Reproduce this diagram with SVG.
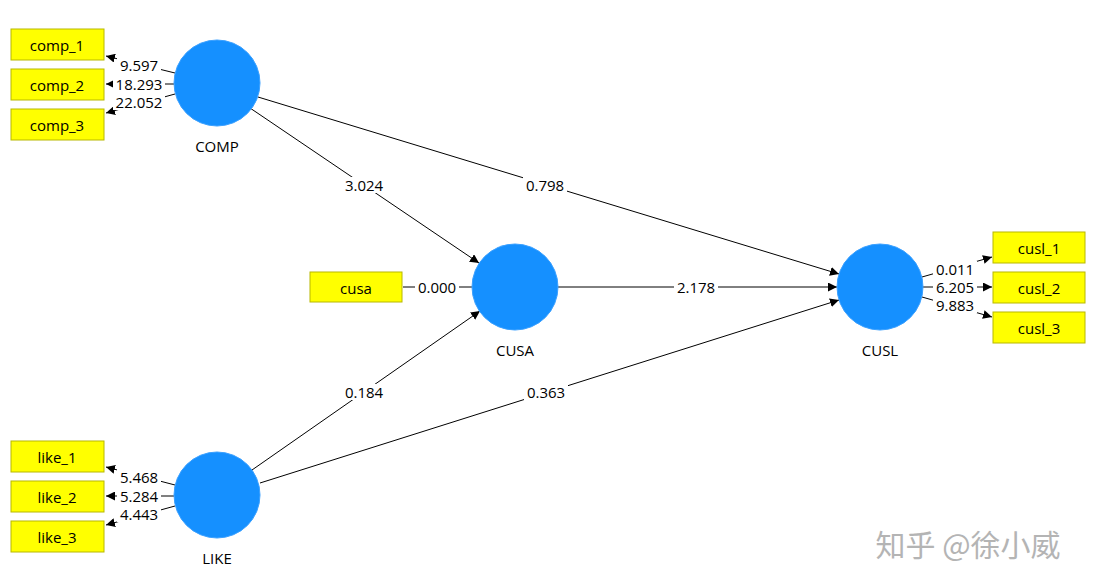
<svg xmlns="http://www.w3.org/2000/svg" width="1099" height="588" viewBox="0 0 1099 588">
<style>
text{font-family:"Open Sans","Liberation Sans",sans-serif;font-size:15px;fill:#000;text-anchor:middle;dominant-baseline:central}
.box rect{fill:#ffff00;stroke:#b8b800;stroke-width:1}
.lv circle{fill:#1590ff;stroke:#3aa0ff}
.c line{stroke:#000;stroke-width:1;marker-end:url(#a)}
.bg{fill:#fff}
</style>
<defs><marker id="a" viewBox="0 0 10 10" refX="10" refY="5" markerWidth="9" markerHeight="9" markerUnits="userSpaceOnUse" orient="auto"><path d="M0,0L10,5L0,10z" fill="#000"/></marker></defs>
<rect width="1099" height="588" fill="#fff"/>
<g class="c">
<line x1="250" y1="108" x2="479" y2="263"/>
<line x1="258" y1="97" x2="839" y2="274"/>
<line x1="252" y1="470" x2="480" y2="311"/>
<line x1="260" y1="483" x2="839" y2="300"/>
<line x1="558" y1="287" x2="837" y2="287"/>
<line x1="472" y1="287" x2="403" y2="287" style="marker-end:none"/>
<line x1="175" y1="73" x2="106" y2="56"/>
<line x1="174" y1="84" x2="106" y2="84"/>
<line x1="175" y1="94" x2="106" y2="113"/>
<line x1="175" y1="485" x2="106" y2="467"/>
<line x1="174" y1="496" x2="106" y2="496"/>
<line x1="175" y1="506" x2="106" y2="525"/>
<line x1="922" y1="277" x2="992" y2="257"/>
<line x1="922" y1="287" x2="992" y2="287"/>
<line x1="922" y1="297" x2="992" y2="317"/>
<rect class="bg" x="342" y="177" width="44" height="16"/><text x="364" y="185">3.024</text>
<rect class="bg" x="523" y="177" width="44" height="16"/><text x="545" y="185">0.798</text>
<rect class="bg" x="674" y="279" width="44" height="16"/><text x="696" y="287">2.178</text>
<rect class="bg" x="342" y="384" width="44" height="16"/><text x="364" y="392">0.184</text>
<rect class="bg" x="524" y="384" width="44" height="16"/><text x="546" y="392">0.363</text>
<rect class="bg" x="415" y="279" width="44" height="16"/><text x="437" y="287">0.000</text>
<rect class="bg" x="117" y="57" width="44" height="16"/><text x="139" y="65">9.597</text>
<rect class="bg" x="113" y="76" width="52" height="16"/><text x="139" y="84">18.293</text>
<rect class="bg" x="113" y="94" width="52" height="16"/><text x="139" y="102">22.052</text>
<rect class="bg" x="117" y="469" width="44" height="16"/><text x="139" y="477">5.468</text>
<rect class="bg" x="117" y="488" width="44" height="16"/><text x="139" y="496">5.284</text>
<rect class="bg" x="117" y="506" width="44" height="16"/><text x="139" y="514">4.443</text>
<rect class="bg" x="933" y="261" width="44" height="16"/><text x="955" y="269">0.011</text>
<rect class="bg" x="933" y="279" width="44" height="16"/><text x="955" y="287">6.205</text>
<rect class="bg" x="933" y="297" width="44" height="16"/><text x="955" y="305">9.883</text>
</g>
<g id="COMP" class="lv"><circle cx="217" cy="83" r="43"/><text x="217" y="146">COMP</text></g>
<g id="CUSA" class="lv"><circle cx="515" cy="287" r="43"/><text x="515" y="350">CUSA</text></g>
<g id="CUSL" class="lv"><circle cx="880" cy="287" r="43"/><text x="880" y="350">CUSL</text></g>
<g id="LIKE" class="lv"><circle cx="217" cy="495" r="43"/><text x="217" y="558">LIKE</text></g>
<g id="comp_1" class="box"><rect x="11" y="29" width="93" height="31"/><text x="57" y="45">comp_1</text></g>
<g id="comp_2" class="box"><rect x="11" y="69" width="93" height="31"/><text x="57" y="85">comp_2</text></g>
<g id="comp_3" class="box"><rect x="11" y="109" width="93" height="31"/><text x="57" y="125">comp_3</text></g>
<g id="cusa" class="box"><rect x="310" y="272" width="92" height="30"/><text x="356" y="288">cusa</text></g>
<g id="cusl_1" class="box"><rect x="993" y="232" width="92" height="31"/><text x="1039" y="248">cusl_1</text></g>
<g id="cusl_2" class="box"><rect x="993" y="272" width="92" height="31"/><text x="1039" y="288">cusl_2</text></g>
<g id="cusl_3" class="box"><rect x="993" y="312" width="92" height="31"/><text x="1039" y="328">cusl_3</text></g>
<g id="like_1" class="box"><rect x="11" y="441" width="93" height="31"/><text x="57" y="457">like_1</text></g>
<g id="like_2" class="box"><rect x="11" y="481" width="93" height="31"/><text x="57" y="497">like_2</text></g>
<g id="like_3" class="box"><rect x="11" y="521" width="93" height="31"/><text x="57" y="537">like_3</text></g>
<text x="968" y="543" style="font-family:'Noto Sans CJK SC',sans-serif;font-size:30px;fill:#b4b4b4">知乎 @徐小威</text>
</svg>
